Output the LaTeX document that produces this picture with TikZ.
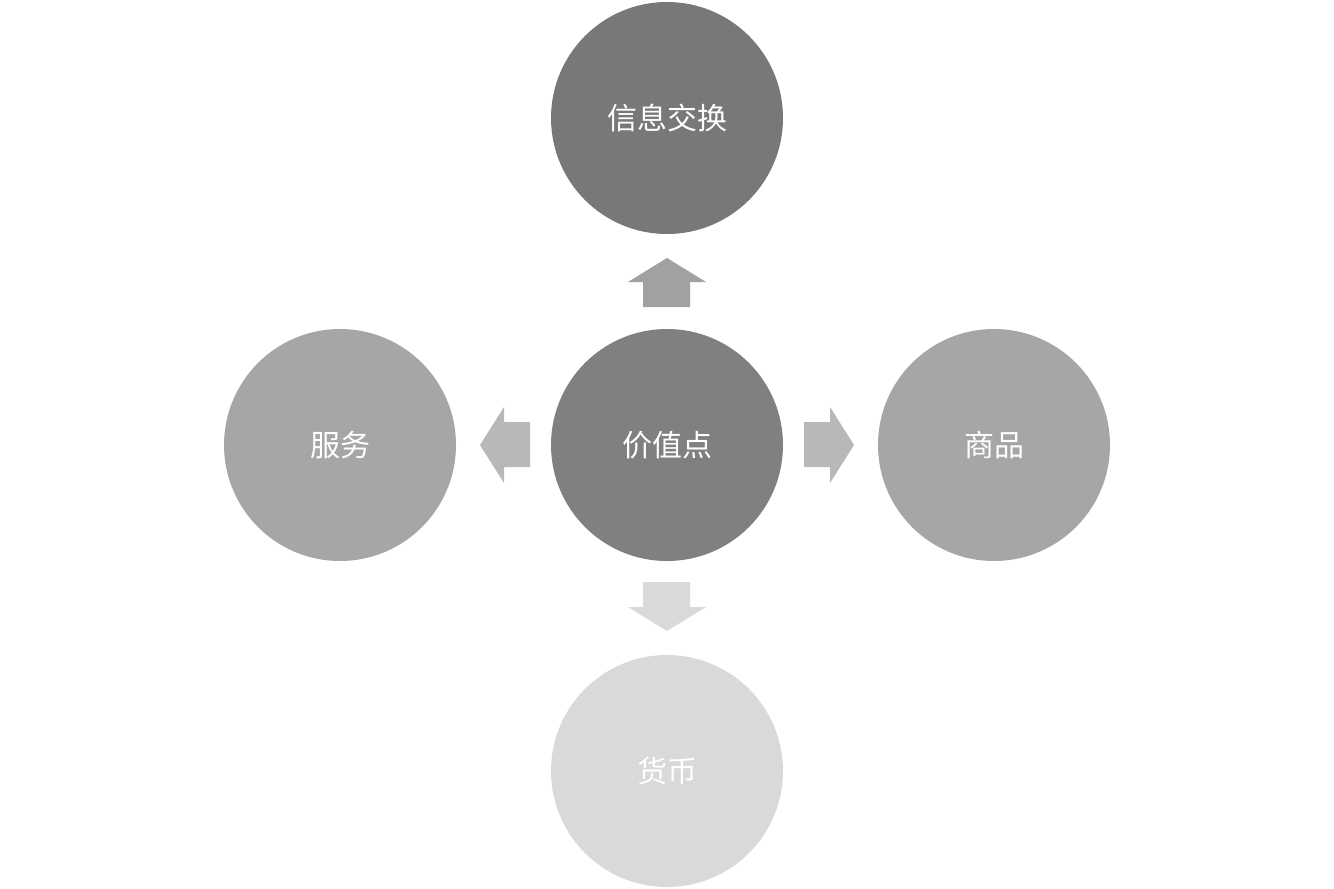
\documentclass[tikz,border=0pt]{standalone}
\usepackage{fontspec}
\newfontfamily\cjk{Noto Sans CJK SC}
\begin{document}
\begin{tikzpicture}[x=1pt,y=-1pt,
  bub/.style={circle,minimum size=232pt,inner sep=0pt,text=white,font=\cjk\fontsize{30}{36}\selectfont}]
\useasboundingbox (0,0) rectangle (1334,889);
\node[bub,fill=black!53] (top) at (667,118) {信息交换};
\node[bub,fill=black!50] (ctr) at (667,445) {价值点};
\node[bub,fill=black!35] (lft) at (340,445) {服务};
\node[bub,fill=black!35] (rgt) at (994,445) {商品};
\node[bub,fill=black!15] (bot) at (667,771) {货币};
\fill[black!37] (643,307) -- (643,282) -- (628,282) -- (667,258) -- (706,282) -- (690,282) -- (690,307) -- cycle;
\fill[black!28] (530,422) -- (504,422) -- (504,407) -- (480,445) -- (504,483) -- (504,467) -- (530,467) -- cycle;
\fill[black!28] (804,422) -- (830,422) -- (830,407) -- (854,445) -- (830,483) -- (830,467) -- (804,467) -- cycle;
\fill[black!15] (643,582) -- (643,607) -- (628,607) -- (667,631) -- (706,607) -- (690,607) -- (690,582) -- cycle;
\end{tikzpicture}
\end{document}
